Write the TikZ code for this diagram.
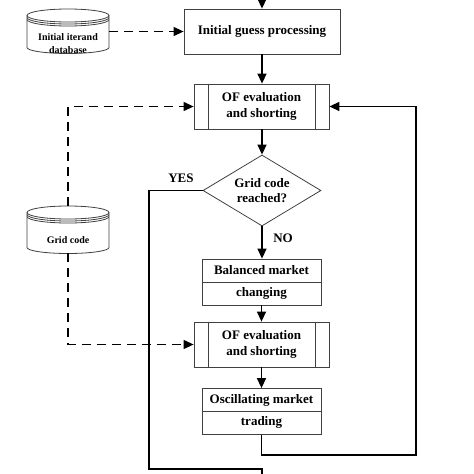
\documentclass[tikz,border=0pt]{standalone}
\usepackage{fontspec}
\setmainfont{Liberation Serif}
\usetikzlibrary{shapes.geometric,arrows.meta,calc}
\begin{document}
\begin{tikzpicture}[x=1pt,y=-1pt,
  box/.style={draw=black!75, line width=0.8pt, fill=white, inner sep=0pt, align=center,
    font=\fontsize{13}{16}\selectfont\bfseries},
  procbox/.style={box, minimum width=135pt, minimum height=45pt},
  splitbox/.style={box, minimum width=119pt, minimum height=46pt,
    font=\fontsize{13}{22}\selectfont\bfseries},
  decision/.style={box, diamond, aspect=1.66, minimum width=118pt, minimum height=71pt,
    font=\fontsize{13}{15}\selectfont\bfseries},
  dbnode/.style={inner sep=0pt, minimum width=82pt, align=center,
    font=\fontsize{10}{13}\selectfont\bfseries},
  flow/.style={line width=1.4pt, -{Triangle[length=10pt,width=9pt]}},
  line/.style={line width=1.4pt},
  dashflow/.style={line width=1.2pt, dash pattern=on 9pt off 6pt, -{Triangle[length=10pt,width=9pt]}},
  lbl/.style={font=\fontsize{13}{15}\selectfont\bfseries, inner sep=0pt},
  cyl/.style={draw=black!75, line width=0.8pt}
]
\useasboundingbox (0,0) rectangle (474,474);

% cylinders (drawn directly)
\newcommand{\dbcyl}[2]{% #1 top y, #2 bottom y
  \fill[white] (27,#1+6.5) -- (27,#2-5.5) arc[start angle=180,end angle=0,x radius=41,y radius=6] -- (109,#1+6.5) -- cycle;
  \draw[cyl] (68,#1+6.5) ellipse[x radius=41,y radius=6.5];
  \draw[cyl] (27,#1+8.5) arc[start angle=180,end angle=0,x radius=41,y radius=6.5];
  \draw[cyl] (27,#1+10.5) arc[start angle=180,end angle=0,x radius=41,y radius=6.5];
  \draw[cyl] (27,#1+6.5) -- (27,#2-5.5) arc[start angle=180,end angle=0,x radius=41,y radius=6] -- (109,#1+6.5);
}
\dbcyl{9}{53}
\dbcyl{206}{253}

\node[dbnode, minimum height=44pt] (db1) at (68,31) {};
\node[dbnode] (db1t) at (68,43.5) {Initial iterand\\database};
\node[dbnode, minimum height=47pt] (gc) at (68,229.5) {};
\node[dbnode] (gct) at (68,240) {Grid code};

% main nodes
\node[box, minimum width=156pt, minimum height=45pt] (init) at (262,31.5) {Initial guess processing};
\node[procbox] (of1) at (261.5,106.5) {OF evaluation\\and shorting};
\draw[black!75, line width=0.8pt] ([xshift=15pt]of1.north west) -- ([xshift=15pt]of1.south west)
  ([xshift=-14pt]of1.north east) -- ([xshift=-14pt]of1.south east);
\node[decision] (dec) at (262,190.5) {Grid code\\reached?};
\node[splitbox] (bal) at (261.5,282) {Balanced market\\changing};
\draw[black!75, line width=0.8pt] (bal.west) -- (bal.east);
\node[procbox] (of2) at (261.5,344.5) {OF evaluation\\and shorting};
\draw[black!75, line width=0.8pt] ([xshift=15pt]of2.north west) -- ([xshift=15pt]of2.south west)
  ([xshift=-14pt]of2.north east) -- ([xshift=-14pt]of2.south east);
\node[splitbox] (osc) at (261.5,411.5) {Oscillating market\\trading};
\draw[black!75, line width=0.8pt] (osc.west) -- (osc.east);

% labels
\node[lbl] (yes) at (181,178) {YES};
\node[lbl] (no) at (283,238) {NO};

% coordinates
\coordinate (topin) at (262,-2);
\coordinate (botout) at (262,477);

% connectors
\draw[flow] (topin) -- (init.north);
\draw[flow] (init.south) -- (init.south |- of1.north);
\draw[flow] (of1.south -| dec.north) -- (dec.north);
\draw[flow] (dec.south) -- (dec.south |- bal.north);
\draw[flow] (bal.south) -- (bal.south |- of2.north);
\draw[flow] (of2.south) -- (of2.south |- osc.north);
\draw[flow] (osc.south) -- (261.5,455) -- (416,455) -- (416,106.5) -- (of1.east);
\draw[line] (dec.west) -- (149,190.5) -- (149,469) -- (262,469) -- (botout);

\draw[dashflow] (db1.east |- init.west) -- (init.west);
\draw[dashflow] (gc.north) -- (68,106.5) -- (of1.west);
\draw[dashflow] (gc.south) -- (68,344.5) -- (of2.west);
\end{tikzpicture}
\end{document}
